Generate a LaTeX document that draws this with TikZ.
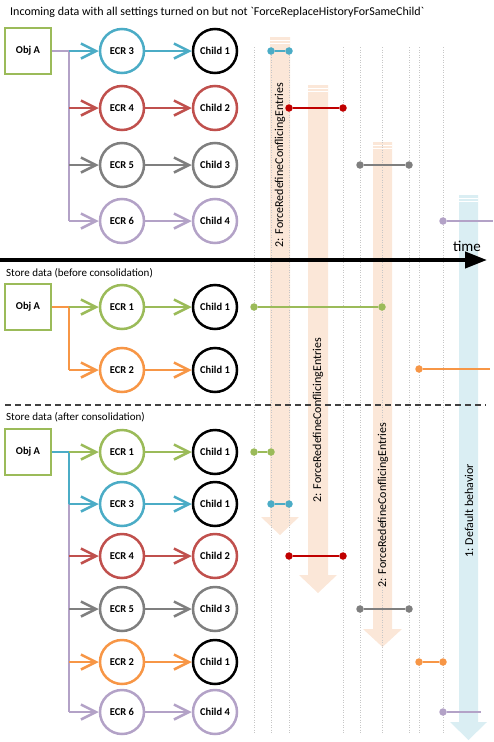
\documentclass[tikz,border=0pt]{standalone}
\usepackage{fontspec}
\setmainfont{Carlito}
\usetikzlibrary{arrows.meta}
\definecolor{cgreen}{HTML}{9BBB59}
\definecolor{cblue}{HTML}{4BACC6}
\definecolor{cred}{HTML}{C0504D}
\definecolor{cgray}{HTML}{7F7F7F}
\definecolor{cpurple}{HTML}{B3A2C7}
\definecolor{corange}{HTML}{F79646}
\definecolor{cdark}{HTML}{C00000}
\definecolor{cpeach}{HTML}{FBE7D8}
\definecolor{clightblue}{HTML}{DAEEF3}
\begin{document}
\begin{tikzpicture}[x=1pt, y=-1pt,
    obj/.style={draw=cgreen, line width=2.5pt, minimum size=46pt, inner sep=0pt, font=\bfseries\fontsize{10.5}{12}\selectfont},
    ecr/.style={circle, draw=#1, line width=2.5pt, minimum size=44pt, inner sep=0pt, font=\bfseries\fontsize{10.5}{12}\selectfont},
    link/.style={draw=#1, line width=2.5pt},
    arr/.style={draw=#1, line width=2.5pt, -{Straight Barb[length=15pt,width=15pt]}},
    seg/.style={draw=#1, line width=2pt},
    endpt/.style={circle, fill=#1, inner sep=0pt, minimum size=7.5pt},
    gridline/.style={draw=black!22, line width=0.7pt, dash pattern=on 1pt off 1.5pt},
    bandlabel/.style={rotate=90, font=\fontsize{12}{14}\selectfont},
    heading/.style={anchor=base west, inner sep=0pt, font=\fontsize{12}{14}\selectfont}]
    \useasboundingbox (0,0) rectangle (493,742);
    \fill[cpeach] (270,37) -- (290,37) -- (290,517) -- (299,517) -- (280,535) -- (261,517) -- (270,517) -- cycle;
    \fill[cpeach] (308,85) -- (328,85) -- (328,575) -- (337,575) -- (318,593) -- (299,575) -- (308,575) -- cycle;
    \fill[cpeach] (373,142) -- (392,142) -- (392,629) -- (402,629) -- (382.5,647) -- (363,629) -- (373,629) -- cycle;
    \fill[clightblue] (459,195) -- (478,195) -- (478,722) -- (487,722) -- (468.5,740) -- (450,722) -- (459,722) -- cycle;
    \foreach \x/\y/\w in {270/37/20, 308/85/20, 373/142/19, 459/195/19} {
        \draw[white, line width=0.6pt] (\x,\y+3) -- ++(\w,0);
        \draw[white, line width=0.6pt] (\x,\y+6) -- ++(\w,0);
    }
    \foreach \x in {254,271,289,343,360,382,409,419,443}
        \draw[gridline] (\x,47) -- (\x,734);
    \node[bandlabel] (l1) at (280,165) {2: ForceRedefineConflicingEntries};
    \node[bandlabel] (l2) at (318,420) {2: ForceRedefineConflicingEntries};
    \node[bandlabel] (l3) at (383,505) {2: ForceRedefineConflicingEntries};
    \node[bandlabel] (l4) at (469,511) {1: Default behavior};
    \node[heading] (h1) at (10,15) {Incoming data with all settings turned on but not \textasciigrave ForceReplaceHistoryForSameChild\textasciigrave};
    \node[heading, font=\fontsize{11}{13}\selectfont] (h2) at (6,276) {Store data (before consolidation)};
    \node[heading, font=\fontsize{11}{13}\selectfont] (h3) at (6,420) {Store data (after consolidation)};
    \coordinate (t0) at (0,260);
    \coordinate (t1) at (487,260);
    \draw[line width=4pt, -{Triangle[length=22pt,width=16pt]}] (t0) -- (t1);
    \node[font=\fontsize{15}{17}\selectfont] (time) at (467,246) {time};
    \coordinate (d0) at (5,405);
    \coordinate (d1) at (486,405);
    \draw[black!75, line width=1.2pt, dash pattern=on 6pt off 4pt] (d0) -- (d1);
    \node[obj] (ta) at (28,51) {Obj A};
    \node[ecr=cblue] (te3) at (122,51) {ECR 3};
    \node[ecr=cred] (te4) at (122,108) {ECR 4};
    \node[ecr=cgray] (te5) at (122,165) {ECR 5};
    \node[ecr=cpurple] (te6) at (122,221) {ECR 6};
    \node[ecr=black] (tc1) at (215,51) {Child 1};
    \node[ecr=cred] (tc2) at (215,108) {Child 2};
    \node[ecr=cgray] (tc3) at (215,165) {Child 3};
    \node[ecr=cpurple] (tc4) at (215,221) {Child 4};
    \coordinate (tb1) at (69,51);
    \coordinate (tb2) at (69,108);
    \coordinate (tb3) at (69,165);
    \coordinate (tb4) at (69,221);
    \draw[link=cpurple] (ta) -- (tb1) -- (tb4);
    \draw[arr=cblue] (tb1) -- (te3);
    \draw[arr=cred] (tb2) -- (te4);
    \draw[arr=cgray] (tb3) -- (te5);
    \draw[arr=cpurple] (tb4) -- (te6);
    \draw[arr=cblue] (te3) -- (tc1);
    \draw[arr=cred] (te4) -- (tc2);
    \draw[arr=cgray] (te5) -- (tc3);
    \draw[arr=cpurple] (te6) -- (tc4);
    \node[endpt=cblue] (tp1) at (271,51) {};
    \node[endpt=cblue] (tp2) at (289,51) {};
    \node[endpt=cdark] (tp3) at (289,108) {};
    \node[endpt=cdark] (tp4) at (343,108) {};
    \node[endpt=cgray] (tp5) at (360,165) {};
    \node[endpt=cgray] (tp6) at (409,165) {};
    \node[endpt=cpurple] (tp7) at (443,221) {};
    \coordinate (tp8) at (493,221);
    \draw[seg=cblue] (tp1) -- (tp2);
    \draw[seg=cdark] (tp3) -- (tp4);
    \draw[seg=cgray] (tp5) -- (tp6);
    \draw[seg=cpurple] (tp7) -- (tp8);
    \node[obj] (ma) at (28,307) {Obj A};
    \node[ecr=cgreen] (me1) at (122,307) {ECR 1};
    \node[ecr=corange] (me2) at (122,370) {ECR 2};
    \node[ecr=black] (mc1) at (215,307) {Child 1};
    \node[ecr=black] (mc2) at (215,370) {Child 1};
    \coordinate (mb1) at (69,307);
    \coordinate (mb2) at (69,370);
    \draw[link=corange] (ma) -- (mb1) -- (mb2);
    \draw[arr=cgreen] (mb1) -- (me1);
    \draw[arr=corange] (mb2) -- (me2);
    \draw[arr=cgreen] (me1) -- (mc1);
    \draw[arr=corange] (me2) -- (mc2);
    \node[endpt=cgreen] (mp1) at (254,307) {};
    \node[endpt=cgreen] (mp2) at (382,307) {};
    \node[endpt=corange] (mp3) at (419,369) {};
    \coordinate (mp4) at (490,369);
    \draw[seg=cgreen] (mp1) -- (mp2);
    \draw[seg=corange] (mp3) -- (mp4);
    \node[obj] (ba) at (28,452) {Obj A};
    \node[ecr=cgreen] (be1) at (122,452) {ECR 1};
    \node[ecr=cblue] (be3) at (122,504) {ECR 3};
    \node[ecr=cred] (be4) at (122,556) {ECR 4};
    \node[ecr=cgray] (be5) at (122,609) {ECR 5};
    \node[ecr=corange] (be2) at (122,662) {ECR 2};
    \node[ecr=cpurple] (be6) at (122,712) {ECR 6};
    \node[ecr=black] (bc1) at (215,452) {Child 1};
    \node[ecr=black] (bc2) at (215,504) {Child 1};
    \node[ecr=cred] (bc3) at (215,556) {Child 2};
    \node[ecr=cgray] (bc4) at (215,609) {Child 3};
    \node[ecr=black] (bc5) at (215,662) {Child 1};
    \node[ecr=cpurple] (bc6) at (215,712) {Child 4};
    \coordinate (bb1) at (69,452);
    \coordinate (bb2) at (69,504);
    \coordinate (bb3) at (69,556);
    \coordinate (bb4) at (69,609);
    \coordinate (bb5) at (69,662);
    \coordinate (bb6) at (69,712);
    \draw[link=cpurple] (bb2) -- (bb6);
    \draw[link=cblue] (ba) -- (bb1) -- (bb2);
    \draw[arr=cgreen] (bb1) -- (be1);
    \draw[arr=cblue] (bb2) -- (be3);
    \draw[arr=cred] (bb3) -- (be4);
    \draw[arr=cgray] (bb4) -- (be5);
    \draw[arr=corange] (bb5) -- (be2);
    \draw[arr=cpurple] (bb6) -- (be6);
    \draw[arr=cgreen] (be1) -- (bc1);
    \draw[arr=cblue] (be3) -- (bc2);
    \draw[arr=cred] (be4) -- (bc3);
    \draw[arr=cgray] (be5) -- (bc4);
    \draw[arr=corange] (be2) -- (bc5);
    \draw[arr=cpurple] (be6) -- (bc6);
    \node[endpt=cgreen] (bp1) at (254,452) {};
    \node[endpt=cgreen] (bp2) at (271,452) {};
    \node[endpt=cblue] (bp3) at (271,504) {};
    \node[endpt=cblue] (bp4) at (289,504) {};
    \node[endpt=cdark] (bp5) at (289,556) {};
    \node[endpt=cdark] (bp6) at (343,556) {};
    \node[endpt=cgray] (bp7) at (360,609) {};
    \node[endpt=cgray] (bp8) at (409,609) {};
    \node[endpt=corange] (bp9) at (419,662) {};
    \node[endpt=corange] (bp10) at (443,662) {};
    \node[endpt=cpurple] (bp11) at (443,712) {};
    \coordinate (bp12) at (481,712);
    \draw[seg=cgreen] (bp1) -- (bp2);
    \draw[seg=cblue] (bp3) -- (bp4);
    \draw[seg=cdark] (bp5) -- (bp6);
    \draw[seg=cgray] (bp7) -- (bp8);
    \draw[seg=corange] (bp9) -- (bp10);
    \draw[seg=cpurple] (bp11) -- (bp12);
\end{tikzpicture}
\end{document}
